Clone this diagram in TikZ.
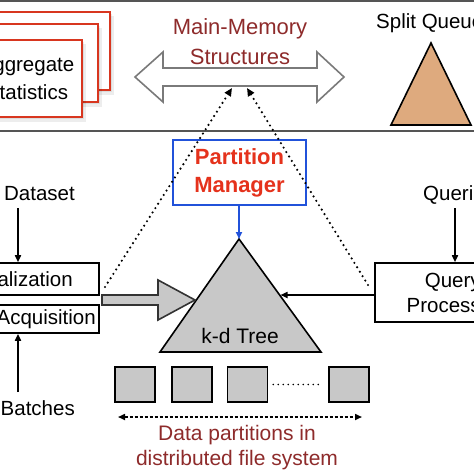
\documentclass[tikz,border=0pt]{standalone}
\usepackage{fontspec}
\setmainfont{Liberation Sans}
\usetikzlibrary{arrows.meta}
\definecolor{memred}{HTML}{8E2B2B}
\definecolor{statred}{HTML}{D8361F}
\definecolor{pmred}{HTML}{E5321C}
\definecolor{pmblue}{HTML}{2152DA}
\definecolor{tan}{HTML}{DEAA7E}
\definecolor{treegray}{HTML}{C8C8C8}
\definecolor{rulegray}{HTML}{555555}
\definecolor{arrowgray}{HTML}{7A7A7A}
\tikzset{
  lbl/.style={inner sep=0pt, font=\fontsize{20.5}{25}\selectfont},
  redlbl/.style={inner sep=0pt, text=memred, align=center},
  stbox/.style={draw=statred, line width=2pt, fill=white},
  softshadow/.style={fill=black, opacity=0.07},
  blackbox/.style={draw=black, line width=1.6pt, fill=white, inner sep=0pt, font=\fontsize{20.5}{25}\selectfont},
  partbox/.style={draw=black, line width=1.6pt, fill=treegray, minimum width=40pt, minimum height=35pt, inner sep=0pt},
  arr/.style={line width=1.6pt, -{Triangle[length=7pt,width=6pt]}},
  dotarr/.style={line width=2.4pt, line cap=round, dash pattern=on 0pt off 5.2pt, -{Triangle[length=8pt,width=7pt]}},
}
\begin{document}
\begin{tikzpicture}[x=1pt,y=-1pt]
\useasboundingbox (0,0) rectangle (474,474);
\clip (0,0) rectangle (474,474);
\fill[white] (0,0) rectangle (474,474);

% rules
\draw[rulegray, line width=3pt] (-5,0.5) -- (480,0.5);
\draw[rulegray, line width=1.5pt] (-5,131) -- (480,131);

% aggregate statistics stack
\fill[softshadow] (-40,16) rectangle (114,95);
\fill[softshadow] (-40,14) rectangle (112,92);
\draw[stbox] (-40,12) rectangle (110,90);
\fill[softshadow] (-40,28) rectangle (102,107);
\fill[softshadow] (-40,26) rectangle (100,104);
\draw[stbox] (-40,24) rectangle (98,102);
\fill[softshadow] (-40,44) rectangle (86,122);
\fill[softshadow] (-40,42) rectangle (84,119);
\node[stbox, minimum width=110pt, minimum height=77pt, inner sep=0pt, align=center,
      font=\fontsize{20.5}{28}\selectfont] (agg) at (27,78.5) {Aggregate\\Statistics};

% main memory structures
\node[redlbl, font=\fontsize{22}{30}\selectfont] (mms) at (240,42) {Main-Memory\\Structures};
\draw[arrowgray, line width=1.6pt, fill=white, line join=miter]
  (135,77) -- (163,52) -- (163,68) -- (317,68) -- (317,52) -- (344,77)
  -- (317,102) -- (317,86) -- (163,86) -- (163,102) -- cycle;
\coordinate (memL) at (232,88);
\coordinate (memR) at (247,88);

% split queue
\node[lbl, anchor=west] (sq) at (376,23) {Split Queue};
\draw[black, line width=1.6pt, fill=tan, line join=miter] (431,43) -- (471,125) -- (391,125) -- cycle;

% partition manager
\node[draw=pmblue, line width=2pt, fill=white, minimum width=133pt, minimum height=65pt,
      inner sep=0pt, align=center, text=pmred, font=\bfseries\fontsize{22}{28}\selectfont]
      (pm) at (239.5,172.5) {Partition\\Manager};

% k-d tree
\coordinate (apex) at (239,239);
\coordinate (tl) at (160,352);
\coordinate (tr) at (321,352);
\draw[black, line width=1.6pt, fill=treegray, line join=miter] (apex) -- (tr) -- (tl) -- cycle;
\node[lbl, font=\fontsize{21}{25}\selectfont] (kd) at (240,336) {k-d Tree};
\coordinate (treeR) at (280.5,295);
\draw[pmblue, arr] (pm.south -| apex) -- (apex);

% left side
\node[lbl, anchor=east] (ids) at (75,193) {Initial Dataset};
\node[blackbox, minimum width=160pt, minimum height=32pt, anchor=east] (init) at (100,279) {Initialization};
\node[blackbox, minimum width=155pt, minimum height=28pt, anchor=east] (acq) at (100,319) {Data Acquisition};
\node[lbl, anchor=east] (ib) at (75,408) {Incremental Batches};
\coordinate (idsb) at (18,208);
\coordinate (ibt) at (18,392);
\draw[arr] (idsb) -- (idsb |- init.north);
\draw[arr] (ibt) -- (ibt |- acq.south);

% big gray arrow
\draw[black!80, line width=1.6pt, fill=treegray, line join=miter]
  (102,295) -- (158,295) -- (158,280) -- (195,300) -- (158,320) -- (158,305) -- (102,305) -- cycle;

% right side
\node[lbl, anchor=west] (qs) at (423,195) {Queries};
\node[blackbox, minimum width=156pt, minimum height=59pt, anchor=west, align=center] (qp) at (374,292.5) {Query\\Processor};
\coordinate (qsb) at (455,208);
\draw[arr] (qsb) -- (qsb |- qp.north);
\draw[arr] (qp.west |- treeR) -- (treeR);

% dotted arrows
\coordinate (dl) at (105,287);
\coordinate (dr) at (368,285);
\draw[dotarr] (dl) -- (memL);
\draw[dotarr] (dr) -- (memR);

% data partitions
\node[partbox] (p1) at (135,384.5) {};
\node[partbox] (p2) at (192,384.5) {};
\node[partbox] (p3) at (247.5,384.5) {};
\node[partbox] (p4) at (349,384.5) {};
\draw[line width=1.8pt, line cap=round, dash pattern=on 0pt off 5pt] ([xshift=5pt]p3.east) -- ([xshift=-5pt]p4.west);
\coordinate (dal) at (118,417);
\coordinate (dar) at (362,417);
\draw[line width=1.6pt, dash pattern=on 3pt off 2pt, {Triangle[length=7pt,width=6pt]}-{Triangle[length=7pt,width=6pt]}] (dal) -- (dar);
\node[redlbl, font=\fontsize{21}{25.5}\selectfont] (dp) at (237,447.5) {Data partitions in\\distributed file system};
\end{tikzpicture}
\end{document}
